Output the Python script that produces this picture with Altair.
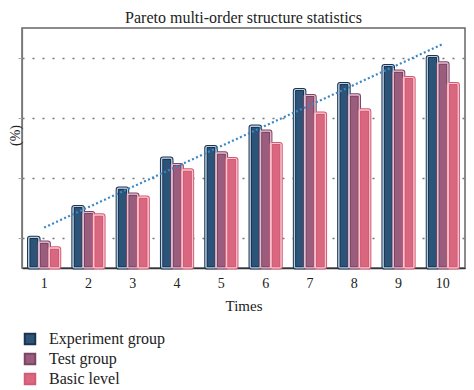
import altair as alt
import pandas as pd

times = [1, 2, 3, 4, 5, 6, 7, 8, 9, 10]
groups = ["Experiment group", "Test group", "Basic level"]
experiment = [1.02, 2.05, 2.66, 3.66, 4.05, 4.73, 5.95, 6.15, 6.75, 7.05]
test = [0.86, 1.85, 2.46, 3.45, 3.84, 4.56, 5.75, 5.77, 6.56, 6.84]
basic = [0.67, 1.77, 2.36, 3.27, 3.65, 4.15, 5.16, 5.27, 6.35, 6.15]

fills = ["#2c5479", "#9a5d7d", "#d9677f"]
outlines = ["#1c3450", "#7a4563", "#d45a74"]
inners = ["#b8d0e4", "#e6bccd", "#f8c6cf"]

rows = []
for name, vals in zip(groups, [experiment, test, basic]):
    for t, v in zip(times, vals):
        rows.append({"time": t, "group": name, "value": v})
df = pd.DataFrame(rows)
trend_df = pd.DataFrame({"t": times, "v": experiment})

FONT = "'Liberation Serif', 'Times New Roman', serif"

yscale = alt.Scale(domain=[0, 8], nice=False)
xscale = alt.Scale(paddingInner=0.3, paddingOuter=0.15)

legend = alt.Legend(
    orient="none", legendX=0, legendY=303, direction="vertical", title=None,
    labelFont=FONT, labelFontSize=16, labelColor="#222",
    symbolType="square", symbolSize=110, symbolStrokeWidth=2,
    rowPadding=0, labelOffset=11, padding=0,
)

x_enc = alt.X("time:O", scale=xscale, title="Times",
              axis=alt.Axis(labelAngle=0, ticks=False, labelPadding=8,
                            labelFont=FONT, labelFontSize=14, labelColor="#222",
                            titleFont=FONT, titleFontSize=15, titleFontWeight="normal",
                            titleColor="#222", titlePadding=8,
                            domainColor="#333", domainWidth=1.5))
y_enc = alt.Y("value:Q", scale=yscale, title="(%)",
              axis=alt.Axis(values=[1, 2, 3, 4, 5, 6, 7], labels=False,
                            ticks=True, tickSize=4, tickColor="#aaa",
                            domainColor="#777", domainWidth=1.2,
                            grid=True, gridDash=[2, 8], gridColor="#777",
                            gridWidth=1.4,
                            titleFont=FONT, titleFontSize=14,
                            titleFontWeight="normal", titleColor="#222",
                            titleX=-7, titleY=107, titleBaseline="middle",
                            titleAlign="center"))

bars_a = alt.Chart(df).mark_bar(strokeWidth=3.2, cornerRadius=1.5).encode(
    x=x_enc,
    xOffset=alt.XOffset("group:N", sort=groups),
    y=y_enc,
    fill=alt.Fill("group:N", sort=groups, title=None, legend=legend,
                  scale=alt.Scale(domain=groups, range=fills)),
    stroke=alt.Stroke("group:N", sort=groups, title=None, legend=legend,
                      scale=alt.Scale(domain=groups, range=outlines)),
)

bars_b = alt.Chart(df).mark_bar(filled=False, strokeWidth=1.2, cornerRadius=1.5).encode(
    x=alt.X("time:O"),
    xOffset=alt.XOffset("group:N", sort=groups),
    y=alt.Y("value:Q"),
    color=alt.Color("group:N", sort=groups, legend=None,
                    scale=alt.Scale(domain=groups, range=inners)),
)

bars = alt.layer(bars_a, bars_b).resolve_scale(color="independent")

trend = alt.Chart(trend_df).transform_regression("t", "v").mark_line(
    color="#3a86c6", strokeDash=[2, 2.4], strokeWidth=2.2
).encode(
    x=alt.X("t:Q", scale=alt.Scale(domain=[0.5, 10.5], nice=False, zero=False), axis=None),
    y=alt.Y("v:Q"),
)

chart = alt.layer(bars, trend).resolve_scale(x="independent").properties(
    width=443, height=240,
    autosize=alt.AutoSizeParams(type="none"),
    padding={"left": 14, "top": 20, "right": 1, "bottom": 121},
    title=alt.TitleParams("Pareto multi-order structure statistics",
                          font=FONT, fontSize=16, fontWeight="normal",
                          color="#222", offset=2),
).configure_view(stroke="#666", strokeWidth=1.5).configure_legend(
    labelFont=FONT, labelFontSize=16,
)

chart.save("out.html", embed_options={"renderer": "svg", "actions": False})
